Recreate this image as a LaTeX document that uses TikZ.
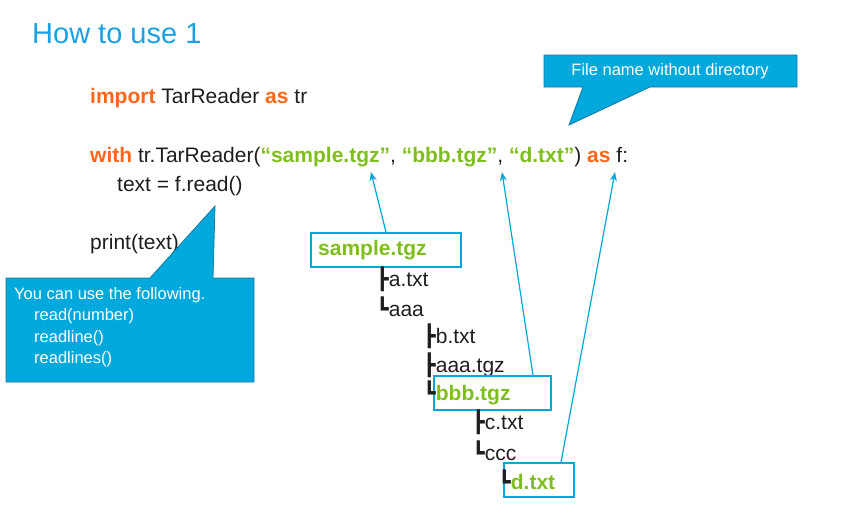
\documentclass[tikz,border=0pt]{standalone}
\usepackage{fontspec}
\setmainfont{Liberation Sans}
\newfontfamily\boxfont{DejaVu Sans}
\usetikzlibrary{arrows.meta}
\definecolor{cblue}{RGB}{0,168,220}
\definecolor{cdark}{RGB}{20,120,160}
\definecolor{ttl}{RGB}{27,161,226}
\definecolor{kw}{RGB}{255,102,26}
\definecolor{grn}{RGB}{126,190,30}
\definecolor{txt}{RGB}{30,30,30}
\newcommand{\kwd}[1]{\textcolor{kw}{\bfseries #1}}
\newcommand{\fn}[1]{\textcolor{grn}{\bfseries #1}}
\newcommand{\bx}[1]{{\boxfont\fontsize{21}{21}\selectfont #1}}
\tikzset{
  code/.style={anchor=west,inner sep=0,text=txt,font=\fontsize{21}{21}\selectfont},
  tree/.style={anchor=west,inner sep=0,text=txt,font=\fontsize{21}{21}\selectfont},
  fbox/.style={draw=cblue,line width=1.6pt,minimum height=34pt,anchor=west},
  callout/.style={fill=cblue,draw=cdark,line width=0.8pt},
  ctext/.style={anchor=north west,inner sep=0,text=white,font=\fontsize{16.5}{21.5}\selectfont,align=left},
  link/.style={draw=cblue,line width=1.2pt,-{Stealth[length=9pt,width=7pt]}}
}
\begin{document}
\begin{tikzpicture}[x=1pt,y=-1pt]
\useasboundingbox (0,0) rectangle (841,517);
\node[anchor=west,inner sep=0,text=ttl,font=\fontsize{29}{29}\selectfont] (title) at (32,34) {How to use 1};
\node[code] (l1) at (90,98) {\kwd{import} TarReader \kwd{as} tr};
\node[code] (l2) at (90,157) {\kwd{with} tr.TarReader(\fn{“sample.tgz"}, \fn{“bbb.tgz"}, \fn{“d.txt"}) \kwd{as} f:};
\node[code] (l3) at (117,186) {text = f.read()};
\node[code] (l4) at (90,244) {print(text)};
% left callout
\draw[callout] (6,278) -- (150,278) -- (215,206) -- (213,278) -- (254,278) -- (254,382) -- (6,382) -- cycle;
\node[ctext] (c1) at (14,287) {You can use the following.\\\hspace*{20pt}read(number)\\\hspace*{20pt}readline()\\\hspace*{20pt}readlines()};
% top callout
\draw[callout] (544,55) -- (797,55) -- (797,87) -- (650,87) -- (569,125) -- (583,87) -- (544,87) -- cycle;
\node[text=white,font=\fontsize{16.5}{16.5}\selectfont,inner sep=0] (c2) at (670,71) {File name without directory};
% tree
\node[fbox,minimum width=150pt,inner sep=0] (s) at (310,250) {};
\node[anchor=west,inner sep=0,font=\fontsize{21}{21}\selectfont] (st) at (318,250) {\fn{sample.tgz}};
\node[tree] (a) at (376,279) {\bx{┣}a.txt};
\node[tree] (aaa) at (376,307) {\bx{┗}aaa};
\node[tree] (b) at (423,336) {\bx{┣}b.txt};
\node[tree] (aaat) at (423,365) {\bx{┣}aaa.tgz};
\node[fbox,minimum width=117pt,inner sep=0] (bb) at (433,393) {};
\node[tree] (bbt) at (423,393) {\bx{┗}\fn{bbb.tgz}};
\node[tree] (c) at (472,422) {\bx{┣}c.txt};
\node[tree] (ccc) at (472,451) {\bx{┗}ccc};
\node[fbox,minimum width=70pt,inner sep=0] (d) at (503,480) {};
\node[tree] (dt) at (498,480) {\bx{┗}\fn{d.txt}};
\coordinate (t1) at (371,172);
\coordinate (t2) at (502,172);
\coordinate (t3) at (615,172);
\draw[link] (s.north west -| 386,0) -- (t1);
\draw[link] (bb.north west -| 533,0) -- (t2);
\draw[link] (d.north west -| 561,0) -- (t3);
\end{tikzpicture}
\end{document}
